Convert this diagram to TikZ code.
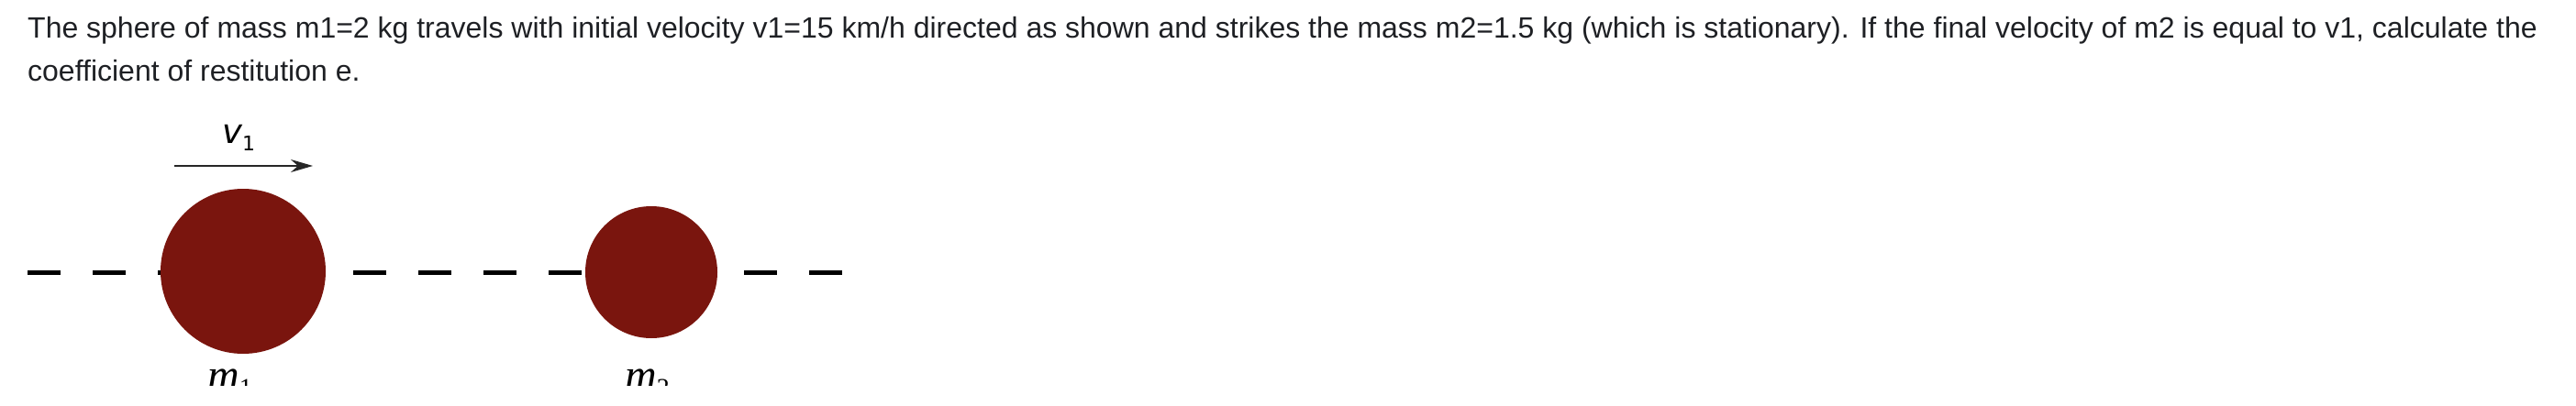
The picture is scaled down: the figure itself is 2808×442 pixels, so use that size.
\documentclass[tikz,border=0pt]{standalone}
\usepackage{fontspec}
\setmainfont{Liberation Sans}
\newfontfamily\labelfont{DejaVu Sans}
\newfontfamily\massfont{Liberation Serif}
\usetikzlibrary{arrows.meta}
\definecolor{ballred}{RGB}{122, 21, 14}
\definecolor{textgray}{RGB}{30, 32, 36}

\begin{document}
\begin{tikzpicture}[x=1pt, y=-1pt]
  \useasboundingbox (0,0) rectangle (2808,442);

  % Problem statement
  \node[anchor=base west, inner sep=0pt, text=textgray, font=\fontsize{32}{40}\selectfont] (line1) at (30,41) {The sphere of mass m1=2 kg travels with initial velocity v1=15 km/h directed as shown and strikes the mass m2=1.5 kg (which is stationary). If the final velocity of m2 is equal to v1, calculate the};
  \node[anchor=base west, inner sep=0pt, text=textgray, font=\fontsize{32}{40}\selectfont] (line2) at (30,88) {coefficient of restitution e.};

  % Line of impact
  \coordinate (lineL) at (30,297);
  \coordinate (lineR) at (918,297);
  \draw[line width=5pt, dash pattern=on 35.5pt off 35.5pt] (lineL) -- (lineR);

  % Spheres
  \node[circle, fill=ballred, minimum size=180pt, inner sep=0pt] (m1ball) at (265,296) {};
  \node[circle, fill=ballred, minimum size=144pt, inner sep=0pt] (m2ball) at (710,297) {};

  % Velocity arrow
  \coordinate (vstart) at (190,181);
  \coordinate (vend) at (341,181);
  \draw[-{Stealth[length=24pt, width=14pt]}, line width=2pt, draw=black!85] (vstart) -- (vend);
  \node[anchor=base west, inner sep=0pt] (v1) at (242,156) {\labelfont\fontsize{37}{44}\selectfont\itshape v\upshape\fontsize{22}{26}\selectfont\raisebox{-8pt}{1}};

  % Mass labels, cut off at the bottom
  \begin{scope}
    \clip (0,0) rectangle (2808,420);
    \node[anchor=base west, inner sep=0pt] (m1) at (226,425) {\massfont\fontsize{48}{54}\selectfont\itshape m\upshape\fontsize{28}{32}\selectfont\raisebox{-7pt}{1}};
    \node[anchor=base west, inner sep=0pt] (m2) at (681,425) {\massfont\fontsize{48}{54}\selectfont\itshape m\upshape\fontsize{28}{32}\selectfont\raisebox{-7pt}{2}};
  \end{scope}
\end{tikzpicture}
\end{document}
